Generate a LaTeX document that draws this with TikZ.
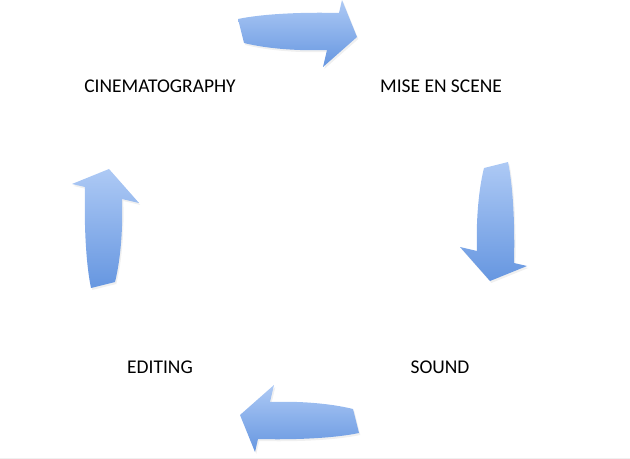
\documentclass[tikz,border=0pt]{standalone}
\usepackage{fontspec}
\setmainfont{Carlito}
\usetikzlibrary{shadows}
\definecolor{arr.top}{rgb}{0.68, 0.79, 0.96}
\definecolor{arr.bot}{rgb}{0.40, 0.59, 0.88}

\begin{document}
\begin{tikzpicture}[x=0.75pt, y=-0.75pt]
  \tikzset{lbl/.append style={font=\fontsize{14.6}{17}\selectfont, inner sep = 0},
    blockarr/.append style={top color=arr.top, bottom color=arr.bot,
      draw=none, drop shadow={opacity=0.12, shadow xshift=1pt,
        shadow yshift=-1.5pt}},
    pics/bendarrow/.style={code={
        \path[blockarr] (-62,-211) .. controls (-38,-216) and (0,-218) .. (39,-217)
          -- (42,-230) -- (57,-193) -- (23,-163) -- (27,-180)
          .. controls (0,-179) and (-32,-181) .. (-56,-187) -- cycle;
      }}}
  \useasboundingbox (0,0) rectangle (630,459);
  \draw[black!6, line width=0.75pt] (0,458.5) -- (630,458.5);

  \node[lbl] (cine) at (160,86) {CINEMATOGRAPHY};
  \node[lbl] (mise) at (441,86) {MISE EN SCENE};
  \node[lbl] (sound) at (440,367) {SOUND};
  \node[lbl] (edit) at (160,367) {EDITING};

  % arrows round the circle
  \pic at (300,230) {bendarrow};
  \pic[rotate=-90] at (297,224) {bendarrow};
  \pic[rotate=180] at (297,222) {bendarrow};
  \pic[rotate=90] at (302,226) {bendarrow};
\end{tikzpicture}
\end{document}
